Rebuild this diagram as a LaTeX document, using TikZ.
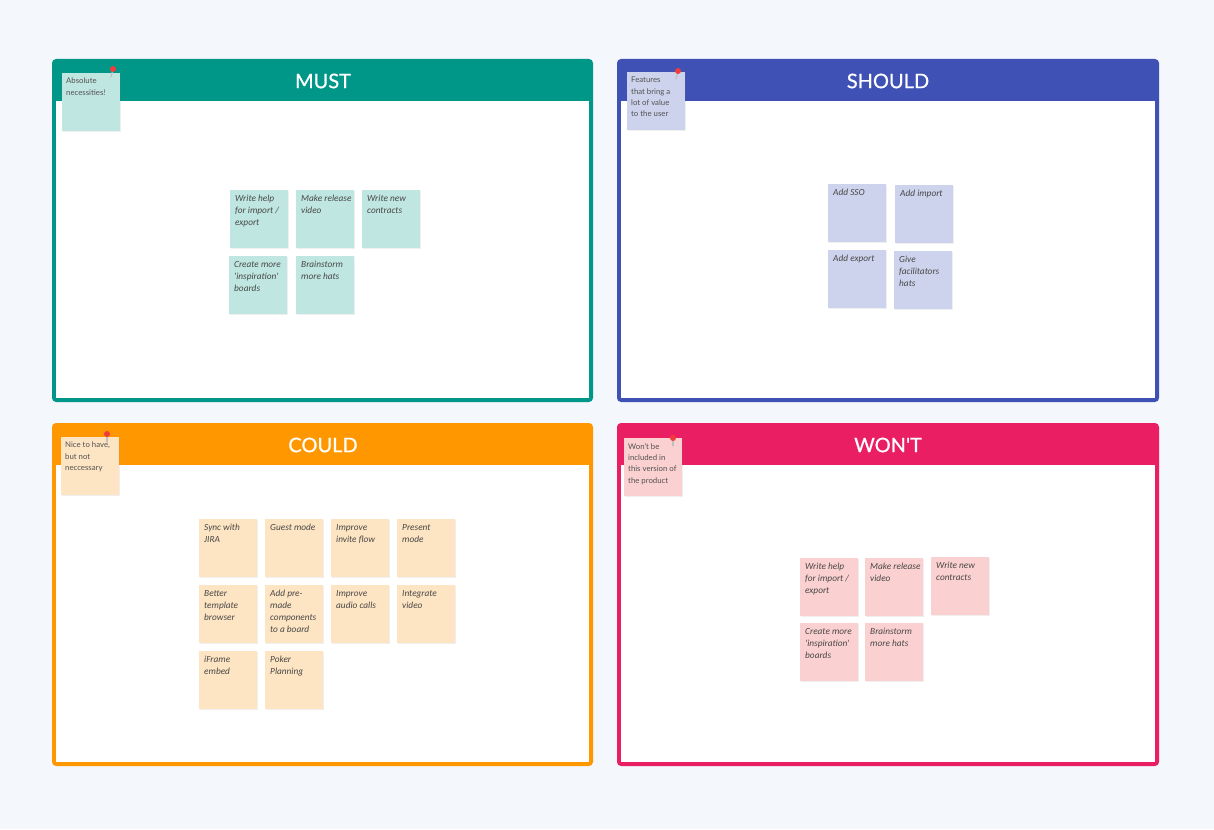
\documentclass[tikz,border=0pt]{standalone}
\usepackage{fontspec}
\setmainfont{Lato}
\newfontfamily\notefont{Carlito}
\newfontfamily\titlefont{Lato}[FakeBold=0.7]
\usetikzlibrary{shadows}

\definecolor{bgc}{HTML}{F4F7FB}
\definecolor{mustc}{HTML}{009688}
\definecolor{mustnote}{HTML}{BFE6E0}
\definecolor{shouldc}{HTML}{3F51B5}
\definecolor{shouldnote}{HTML}{CDD3EC}
\definecolor{couldc}{HTML}{FF9800}
\definecolor{couldnote}{HTML}{FDE4C2}
\definecolor{wontc}{HTML}{E91E63}
\definecolor{wontnote}{HTML}{FBD0D0}
\definecolor{pinred}{HTML}{F23B3B}

\begin{document}
\begin{tikzpicture}[x=1pt, y=-1pt,
    board/.style={rounded corners=4pt},
    title/.style={text=white, font=\titlefont\fontsize{20}{24}\selectfont},
    sticky/.style={anchor=north west, minimum width=58pt, minimum height=58pt,
        inner sep=0pt, label distance=0pt,
        drop shadow={opacity=0.12, shadow xshift=0.8pt, shadow yshift=-0.8pt}},
    stxt/.style={anchor=north west, inner sep=0pt, align=left, xshift=5pt, yshift=-5pt,
        text=black!72, font=\notefont\itshape\fontsize{9.3}{12}\selectfont},
    ctxt/.style={anchor=north west, inner sep=0pt, align=left, xshift=4pt, yshift=-5pt,
        text=black!68, font=\fontsize{7.8}{11.3}\selectfont},
    needle/.style={black!25, line width=1.2pt, line cap=round}]

    \useasboundingbox (0,0) rectangle (1214,829);
    \fill[bgc] (0,0) rectangle (1214,829);

    % boards
    \fill[mustc, board] (52,59) rectangle (593,402);
    \fill[white] (56,101) rectangle (589,398);
    \fill[shouldc, board] (617,59) rectangle (1159,402);
    \fill[white] (621,101) rectangle (1155,398);
    \fill[couldc, board] (52,423) rectangle (593,766);
    \fill[white] (56,465) rectangle (589,762);
    \fill[wontc, board] (617,423) rectangle (1159,766);
    \fill[white] (621,465) rectangle (1155,762);

    \node[title] (must) at (323,81) {MUST};
    \node[title] (should) at (888,81) {SHOULD};
    \node[title] (could) at (323,445) {COULD};
    \node[title] (wont) at (888,445) {WON'T};

    % corner notes with pins
    \node[sticky, fill=mustnote, label={[ctxt]north west:Absolute\\necessities!}] (mustcorner) at (62,73) {};
    \node[sticky, fill=shouldnote, label={[ctxt]north west:Features\\that bring a\\lot of value\\to the user}] (shouldcorner) at (627,72) {};
    \node[sticky, fill=couldnote, label={[ctxt]north west:Nice to have,\\but not\\neccessary}] (couldcorner) at (61,437) {};
    \node[sticky, fill=wontnote, label={[ctxt]north west:Won't be\\included in\\this version of\\the product}] (wontcorner) at (624,438) {};

    \draw[needle] (113,69) -- (111,77);
    \fill[pinred] (113,69) circle (3pt);
    \draw[needle] (678,71) -- (676,79);
    \fill[pinred] (678,71) circle (3pt);
    \draw[needle] (107,434) -- (107,442);
    \fill[pinred] (107,434) circle (3pt);
    \draw[needle] (673,438) -- (673,446);
    \fill[pinred] (673,438) circle (3pt);

    % must
    \node[sticky, fill=mustnote, label={[stxt]north west:Write help\\for import /\\export}] (m1) at (230,190) {};
    \node[sticky, fill=mustnote, label={[stxt]north west:Make release\\video}] (m2) at (296,190) {};
    \node[sticky, fill=mustnote, label={[stxt]north west:Write new\\contracts}] (m3) at (362,190) {};
    \node[sticky, fill=mustnote, label={[stxt]north west:Create more\\'inspiration'\\boards}] (m4) at (229,256) {};
    \node[sticky, fill=mustnote, label={[stxt]north west:Brainstorm\\more hats}] (m5) at (296,256) {};

    % should
    \node[sticky, fill=shouldnote, label={[stxt]north west:Add SSO}] (s1) at (828,184) {};
    \node[sticky, fill=shouldnote, label={[stxt]north west:Add import}] (s2) at (895,185) {};
    \node[sticky, fill=shouldnote, label={[stxt]north west:Add export}] (s3) at (828,250) {};
    \node[sticky, fill=shouldnote, label={[stxt]north west:Give\\facilitators\\hats}] (s4) at (894,251) {};

    % could
    \node[sticky, fill=couldnote, label={[stxt]north west:Sync with\\JIRA}] (c1) at (199,519) {};
    \node[sticky, fill=couldnote, label={[stxt]north west:Guest mode}] (c2) at (265,519) {};
    \node[sticky, fill=couldnote, label={[stxt]north west:Improve\\invite flow}] (c3) at (331,519) {};
    \node[sticky, fill=couldnote, label={[stxt]north west:Present\\mode}] (c4) at (397,519) {};
    \node[sticky, fill=couldnote, label={[stxt]north west:Better\\template\\browser}] (c5) at (199,585) {};
    \node[sticky, fill=couldnote, label={[stxt]north west:Add pre-\\made\\components\\to a board}] (c6) at (265,585) {};
    \node[sticky, fill=couldnote, label={[stxt]north west:Improve\\audio calls}] (c7) at (331,585) {};
    \node[sticky, fill=couldnote, label={[stxt]north west:Integrate\\video}] (c8) at (397,585) {};
    \node[sticky, fill=couldnote, label={[stxt]north west:iFrame\\embed}] (c9) at (199,651) {};
    \node[sticky, fill=couldnote, label={[stxt]north west:Poker\\Planning}] (c10) at (265,651) {};

    % wont
    \node[sticky, fill=wontnote, label={[stxt]north west:Write help\\for import /\\export}] (w1) at (800,558) {};
    \node[sticky, fill=wontnote, label={[stxt]north west:Make release\\video}] (w2) at (865,558) {};
    \node[sticky, fill=wontnote, label={[stxt]north west:Write new\\contracts}] (w3) at (931,557) {};
    \node[sticky, fill=wontnote, label={[stxt]north west:Create more\\'inspiration'\\boards}] (w4) at (800,623) {};
    \node[sticky, fill=wontnote, label={[stxt]north west:Brainstorm\\more hats}] (w5) at (865,623) {};
\end{tikzpicture}
\end{document}
